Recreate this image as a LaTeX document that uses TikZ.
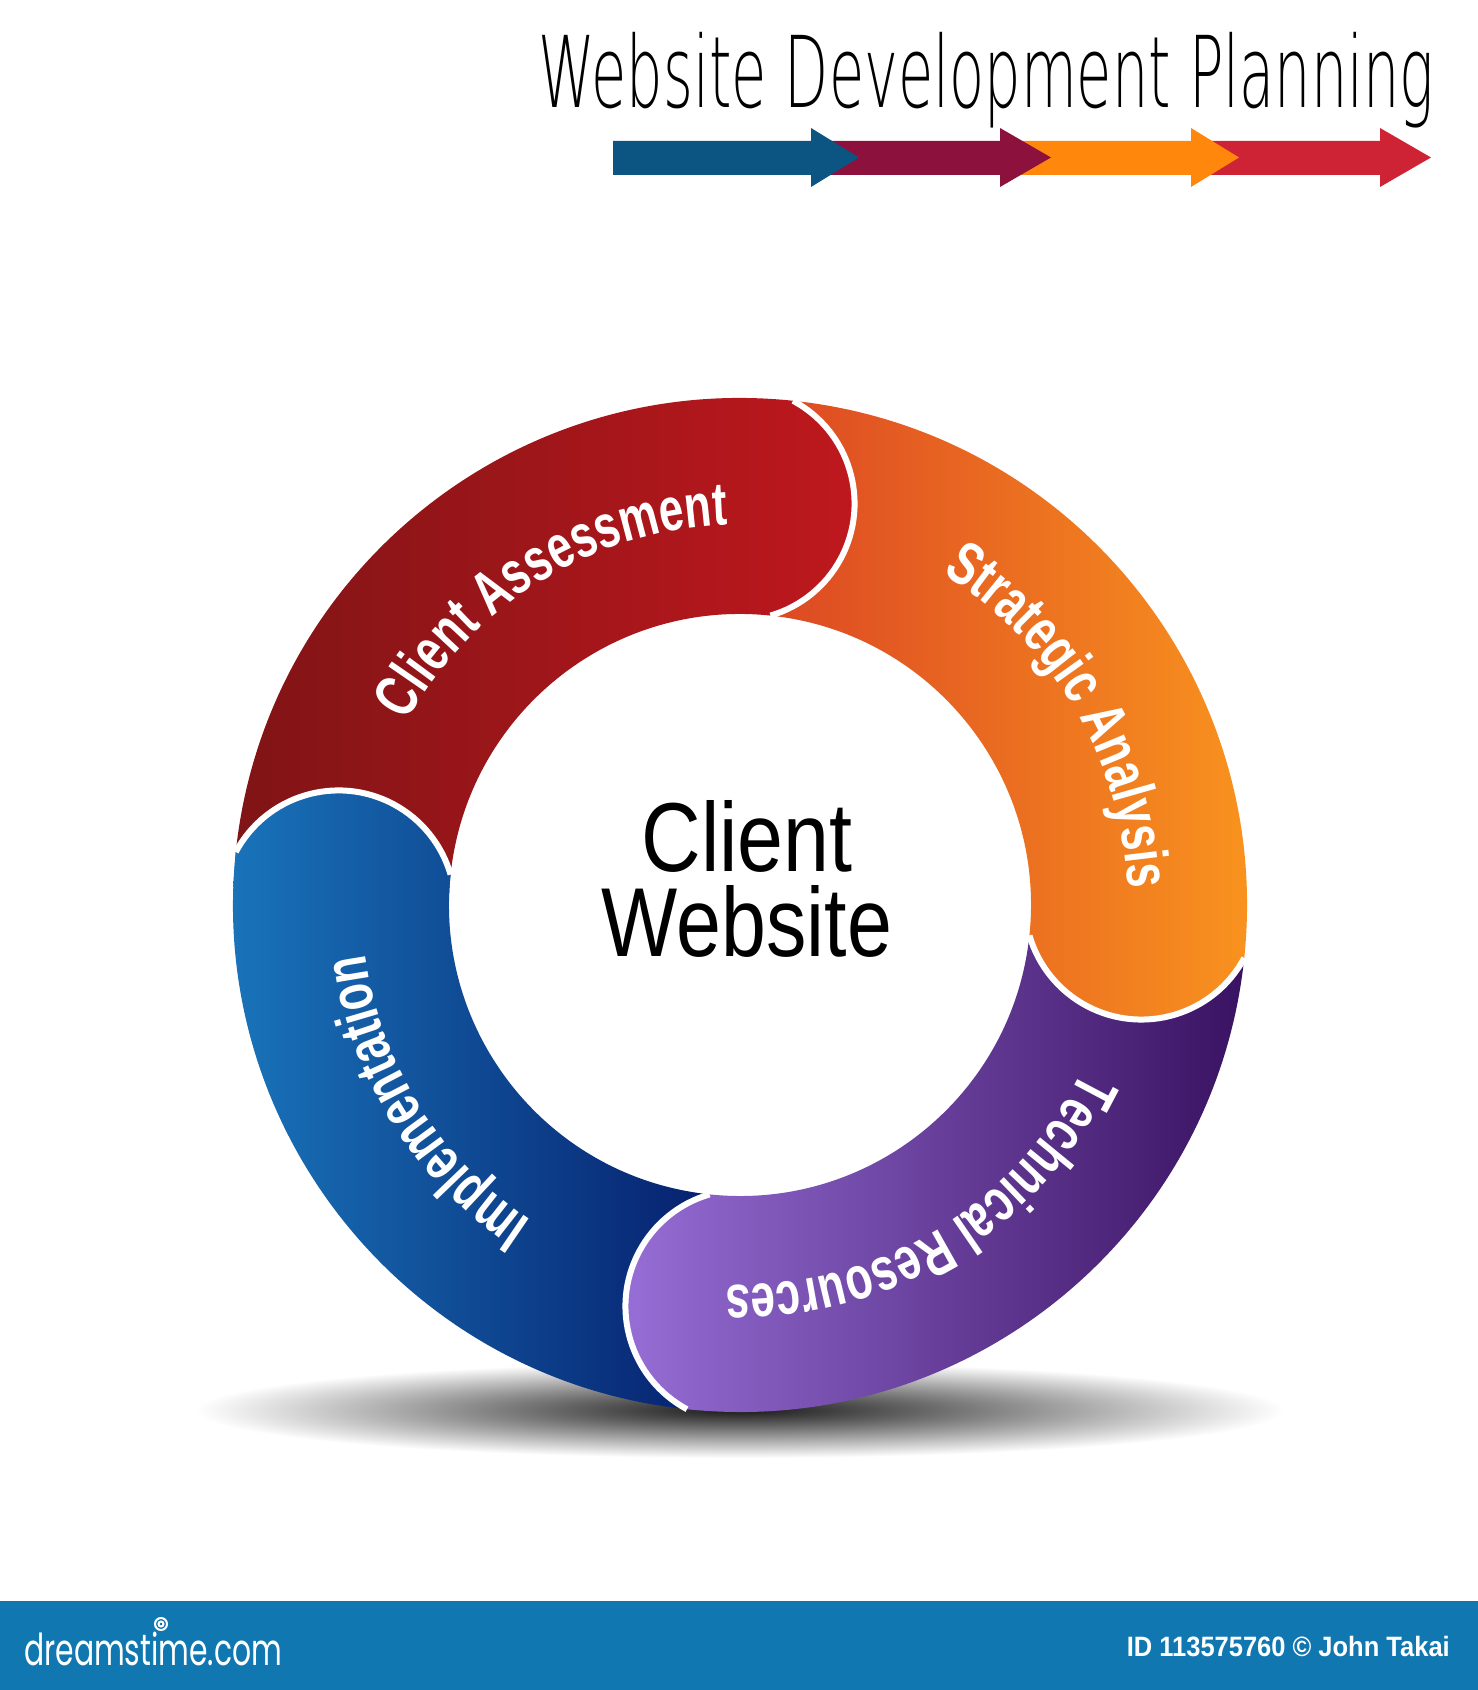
\documentclass[tikz,border=0pt]{standalone}
\usepackage{fontspec}
\usepackage{graphicx}
\usetikzlibrary{decorations.text,calc}
\setmainfont{Liberation Sans}
\IfFontExistsTF{DejaVu Sans ExtraLight}{\newfontfamily\titlefont{DejaVu Sans ExtraLight}}{\newfontfamily\titlefont{Liberation Sans}}
\newfontfamily\lblfont[FakeStretch=0.72]{Liberation Sans Bold}
\newfontfamily\logofont{Poppins}
\definecolor{redL}{RGB}{128,20,22}
\definecolor{redR}{RGB}{192,24,30}
\definecolor{orgL}{RGB}{220,72,35}
\definecolor{orgR}{RGB}{250,150,30}
\definecolor{purL}{RGB}{152,112,216}
\definecolor{purR}{RGB}{58,18,98}
\definecolor{bluL}{RGB}{26,120,190}
\definecolor{bluR}{RGB}{6,32,110}
\definecolor{arBlue}{RGB}{12,84,130}
\definecolor{arMaroon}{RGB}{140,17,60}
\definecolor{arOrange}{RGB}{255,135,12}
\definecolor{arRed}{RGB}{206,35,52}
\definecolor{barBlue}{RGB}{16,119,176}
% segment path: #1 = clockwise end angle, #2 = shading options
\newcommand\ringseg[2]{%
  \shade[#2] ($(C)+(#1+90:507)$) arc[start angle=#1+90, end angle=#1, radius=507]
    arc[start angle=#1-22.17, end angle=#1-157.83, radius=116.62]
    arc[start angle=#1, end angle=#1+90, radius=291] -- cycle;}
\newcommand\capline[1]{%
  \draw[white, line width=6] ($(C)+(#1:507)$) arc[start angle=#1-22.17, end angle=#1-157.83, radius=116.62];}
\newcommand\hdrarrow[4]{%
  \fill[#1] (#2,1515) -- (#3,1515) -- (#3,1503) -- (#4,1532.5) -- (#3,1562) -- (#3,1549) -- (#2,1549) -- cycle;}
\tikzset{
  seglabel/.style={decorate, decoration={text along path, text={|\lblfont\fontsize{61}{61}\selectfont|#1}, text align=center, text color=white}}
}
\begin{document}
\begin{tikzpicture}[x=1pt,y=1pt]
\useasboundingbox (0,0) rectangle (1478,1690);
\fill[white] (0,0) rectangle (1478,1690);
\coordinate (C) at (740,785);

% title and header arrows
\node[anchor=base west, inner sep=0] (title) at (538,1582)
  {\resizebox{896pt}{\height}{\titlefont\fontsize{99}{99}\selectfont Website Development Planning}};
\hdrarrow{arRed}{1191}{1380}{1431}
\hdrarrow{arOrange}{1000}{1191}{1239}
\hdrarrow{arMaroon}{811}{1000}{1051}
\hdrarrow{arBlue}{613}{811}{859}

% shadow
\shade[inner color=black!90, outer color=white] (740,280) ellipse [x radius=545, y radius=48];

% ring segments
\ringseg{174}{left color=bluL, right color=bluR}
\ringseg{-96}{left color=purL, right color=purR}
\ringseg{-6}{left color=orgL, right color=orgR}
\ringseg{84}{left color=redL, right color=redR}
\begin{scope}
  \clip ($(C)+(174:507)$) arc[start angle=151.83, end angle=16.17, radius=116.62]
    -- ($(C)+(178:291)$) -- ($(C)+(178:507)$) -- cycle;
  \ringseg{174}{left color=bluL, right color=bluR}
\end{scope}
\capline{84}
\capline{-6}
\capline{-96}
\capline{174}

% labels
\path[seglabel={Client Assessment}] ($(C)+(171.5:380)$) arc[start angle=171.5, end angle=71.5, radius=380];
\path[seglabel={Strategic Analysis}] ($(C)+(80.5:388)$) arc[start angle=80.5, end angle=-19.5, radius=388];
\path[seglabel={Technical Resources}] ($(C)+(-9:380)$) arc[start angle=-9, end angle=-109, radius=380];
\path[seglabel={Implementation}] ($(C)+(-98:378)$) arc[start angle=-98, end angle=-198, radius=378];

% centre
\node[anchor=base, inner sep=0] (client) at (747,818)
  {\resizebox{211pt}{\height}{\fontsize{98}{98}\selectfont Client}};
\node[anchor=base, inner sep=0] (website) at (747,733)
  {\resizebox{290pt}{\height}{\fontsize{98}{98}\selectfont Website}};

% bottom bar
\fill[barBlue] (0,0) rectangle (1478,89);
\node[anchor=base west, inner sep=0, text=white] (logo) at (24,24)
  {\resizebox{258pt}{\height}{\logofont\fontsize{44}{44}\selectfont dreamstime.com}};
\draw[white, line width=2] (161,66) circle[radius=6] (161,66) circle[radius=2.5];
\node[anchor=base east, inner sep=0, text=white] (credit) at (1450,33)
  {\resizebox{323pt}{\height}{\bfseries\fontsize{28}{28}\selectfont ID 113575760 © John Takai}};
\end{tikzpicture}
\end{document}
